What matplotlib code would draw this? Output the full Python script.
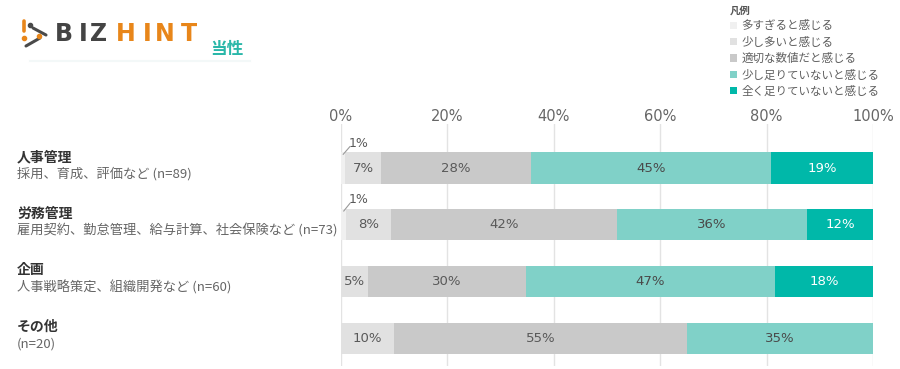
import numpy as np
import matplotlib.pyplot as plt
from matplotlib import transforms
from matplotlib.lines import Line2D

plt.rcParams['font.family'] = ['Noto Sans CJK JP', 'DejaVu Sans']

# categories (rows, top to bottom)
categories = ['人事管理', '労務管理', '企画', 'その他']
subtitles = ['採用、育成、評価など (n=89)',
             '雇用契約、勤怠管理、給与計算、社会保険など (n=73)',
             '人事戦略策定、組織開発など (n=60)',
             '(n=20)']

# answer share per row, in percent
series = ['多すぎると感じる', '少し多いと感じる', '適切な数値だと感じる',
          '少し足りていないと感じる', '全く足りていないと感じる']
too_many = [0.8, 1.0, 0.0, 0.0]
a_bit_many = [6.8, 8.4, 5.0, 10.0]
adequate = [28.1, 42.4, 29.8, 55.0]
a_bit_few = [45.2, 35.8, 46.8, 35.0]
far_too_few = [19.1, 12.4, 18.4, 0.0]

ticks = [0, 20, 40, 60, 80, 100]
tick_labels = ['0%', '20%', '40%', '60%', '80%', '100%']

colors = ['#f0f0f0', '#e1e1e1', '#c9c9c9', '#80d1c8', '#00b8a9']
text_colors = ['#595959', '#595959', '#595959', '#4a4a4a', '#ffffff']
num_font = ['DejaVu Sans']

fig = plt.figure(figsize=(9, 3.69), dpi=100)
W, H = 900, 369
ax = fig.add_axes([341 / W, 3 / H, 532 / W, 242 / H])

data = [too_many, a_bit_many, adequate, a_bit_few, far_too_few]
y = np.arange(len(categories))
left = np.zeros(len(categories))
handles = []
for vals, name, col, tcol in zip(data, series, colors, text_colors):
    vals = np.array(vals)
    bars = ax.barh(y, vals, left=left, height=0.55, color=col, label=name)
    handles.append(bars)
    for i, v in enumerate(vals):
        if v <= 0:
            continue
        label = f'{v:.0f}%'
        if v < 3:
            # small slice: label above the bar with a short leader line
            ax.text(left[i] + 3.3, i - 0.44, label, ha='center', va='center',
                    fontsize=9, color='#595959', family=num_font)
            ax.annotate('', xy=(left[i] + v / 2, i - 0.24),
                        xytext=(left[i] + 1.7, i - 0.38),
                        arrowprops=dict(arrowstyle='-', color='#999999', lw=0.8,
                                        shrinkA=0, shrinkB=0))
        else:
            ax.text(left[i] + v / 2, i, label, ha='center', va='center',
                    fontsize=9.5, color=tcol, family=num_font)
    left = left + vals

ax.set_xlim(0, 100)
ax.set_ylim(3 + 0.49, -0.776)
ax.set_xticks(ticks)
ax.set_xticklabels(tick_labels, family=num_font)
ax.xaxis.tick_top()
ax.tick_params(axis='x', length=0, pad=0, labelsize=10.5, colors='#666666')
ax.set_yticks([])
ax.grid(axis='x', color='#e3e3e3', lw=1)
ax.set_axisbelow(True)
for s in ax.spines.values():
    s.set_visible(False)

# row labels on the left
blend = transforms.blended_transform_factory(fig.transFigure, ax.transData)
for i, (cat, sub) in enumerate(zip(categories, subtitles)):
    ax.annotate(cat, xy=(17 / W, i), xycoords=blend, xytext=(0, 11),
                textcoords='offset pixels', ha='left', va='center',
                fontsize=10, fontweight='bold', color='#333333')
    ax.annotate(sub, xy=(17 / W, i), xycoords=blend, xytext=(0, -6),
                textcoords='offset pixels', ha='left', va='center',
                fontsize=9.5, color='#666666')

# legend
leg = fig.legend(handles=handles, labels=series, loc='upper left',
                 bbox_to_anchor=(722 / W, 1 + 2 / H), frameon=False,
                 title='凡例', title_fontproperties={'size': 7.5, 'weight': 'bold'},
                 fontsize=8.3, handlelength=0.6, handleheight=0.6, handletextpad=0.4,
                 labelspacing=0.29, borderpad=0.2)
leg._legend_box.align = 'left'
leg.get_title().set_color('#555555')
for t in leg.get_texts():
    t.set_color('#606060')

# logo
def fx(px):
    return px / W

def fy(py):
    return 1 - py / H

fig.add_artist(Line2D([fx(24), fx(24)], [fy(21), fy(31)], color='#e8861a', lw=2.6,
                      solid_capstyle='round'))
fig.add_artist(Line2D([fx(24)], [fy(38)], marker='o', ms=3, color='#e8861a'))
fig.add_artist(Line2D([fx(30)], [fy(25)], marker='o', ms=3, color='#4a4a4a'))
fig.add_artist(Line2D([fx(33), fx(46)], [fy(28), fy(35)], color='#4a4a4a', lw=2.2,
                      solid_capstyle='round'))
fig.add_artist(Line2D([fx(40), fx(26)], [fy(38), fy(46)], color='#4a4a4a', lw=2.2,
                      solid_capstyle='round'))
fig.add_artist(Line2D([fx(39)], [fy(36)], marker='o', ms=3, color='#e8861a'))

logo_letters = ['B', 'I', 'Z', 'H', 'I', 'N', 'T']
logo_x = [64, 83, 99, 126, 147, 165, 189]
logo_c = ['#444444'] * 3 + ['#e8861a'] * 4
for ch, x, c in zip(logo_letters, logo_x, logo_c):
    fig.text(fx(x), fy(34), ch, ha='center', va='center', fontsize=17,
             fontweight='bold', color=c, family='DejaVu Sans')
fig.text(fx(210), fy(49), '当性', ha='left', va='center', fontsize=12,
         fontweight='bold', color='#2ab7a9')
fig.add_artist(Line2D([fx(30), fx(250)], [fy(61), fy(61)], color='#f3f8f8', lw=1.5))

fig.savefig('out.png', dpi=100)
